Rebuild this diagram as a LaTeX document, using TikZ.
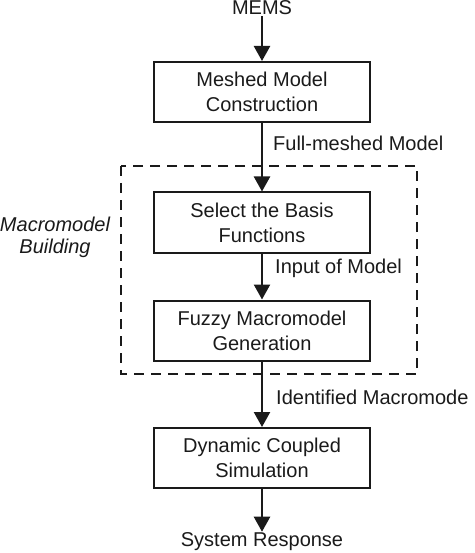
\documentclass[tikz,border=0pt]{standalone}
\usepackage{fontspec}
\setmainfont{Liberation Sans}
\usetikzlibrary{positioning,arrows.meta,fit}
\definecolor{flowink}{HTML}{1A1A1A}
\tikzset{
  proc/.style ={draw=flowink,line width=2pt,minimum width=216pt,minimum height=60pt,align=center,font=\fontsize{20}{25}\selectfont,text=flowink,inner sep=4pt},
  term/.style ={font=\fontsize{20}{25}\selectfont,text=flowink,inner sep=1pt},
  lbl/.style  ={font=\fontsize{20}{25}\selectfont,text=flowink,anchor=west,inner sep=1pt},
  arr/.style  ={-{Triangle[length=15pt,width=16pt]},line width=2.4pt,draw=flowink},
  grp/.style  ={draw=flowink,line width=1.5pt,dash pattern=on 10pt off 7pt},
}
\begin{document}
\begin{tikzpicture}[x=1pt,y=-1pt]
  \useasboundingbox (0,0) rectangle (474,553);
  \node[term] (mems) at (262,8) {MEMS};
  \node[proc] (mesh) at (262,92)    {Meshed Model\\Construction};
  \node[proc] (basis) at (262,222.5) {Select the Basis\\Functions};
  \node[proc] (fuzzy) at (262,330.5) {Fuzzy Macromodel\\Generation};
  \node[proc] (sim) at (262,458)    {Dynamic Coupled\\Simulation};
  \node[term] (resp) at (262,542) {System Response};

  \draw[arr] (mems.south) -- (mesh.north);
  \draw[arr] (mesh) -- (basis);
  \draw[arr] (basis) -- (fuzzy);
  \draw[arr] (fuzzy) -- (sim);
  \draw[arr] (sim) -- (resp.north);

  \node[lbl] (lfull) at (272,143) {Full-meshed Model};
  \node[lbl] (linput) at (274,268) {Input of Model};
  \node[lbl] (lident) at (275,397) {Identified Macromode};

  % macromodel group
  \coordinate (gtl) at (121,166);
  \coordinate (gbr) at (417,374);
  \draw[grp] (gtl) rectangle (gbr);
  \node[term,align=center,font=\fontsize{20}{22}\selectfont\itshape] (grpname) at (55,237) {Macromodel\\Building};
\end{tikzpicture}
\end{document}
